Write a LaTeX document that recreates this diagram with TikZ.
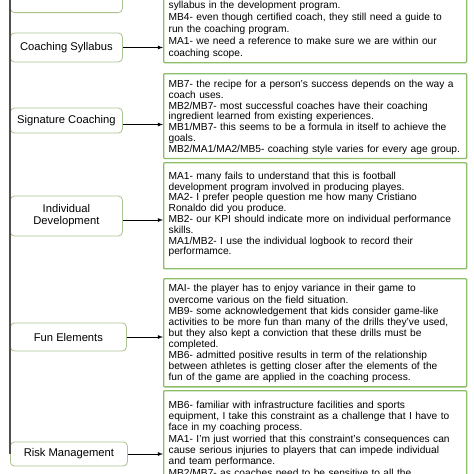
\documentclass[tikz,border=0pt]{standalone}
\usepackage{fontspec}
\setmainfont{Liberation Sans}
\definecolor{notegreen}{RGB}{140,190,105}
\definecolor{topicgreen}{RGB}{170,195,145}
\definecolor{spinegray}{RGB}{80,80,80}
\tikzset{
  topic/.style={draw=topicgreen, line width=0.8pt, rounded corners=4pt,
    align=center, anchor=west, inner sep=0pt,
    font=\fontsize{11.2}{12}\selectfont},
  note/.style={draw=notegreen, line width=1.3pt, rounded corners=1pt,
    text width=293pt, align=left, inner xsep=5pt, inner ysep=4pt,
    anchor=north west, font=\fontsize{10.2}{10.8}\selectfont},
  arr/.style={-latex, line width=0.8pt},
}
\begin{document}
\begin{tikzpicture}[x=1pt, y=-1pt]
      \useasboundingbox (0,0) rectangle (474,474);
      \clip (0,0) rectangle (474,474);
      % topics on the left
      \node[topic, minimum width=112pt, minimum height=40pt, anchor=south west] (prev) at (10,13) {};
      \node[topic, minimum width=112pt, minimum height=29pt] (syl) at (10,47.5) {Coaching Syllabus};
      \node[topic, minimum width=112pt, minimum height=25pt] (sig) at (10,120.5) {Signature Coaching};
      \node[topic, minimum width=112pt, minimum height=40pt] (ind) at (10,216) {Individual\\Development};
      \node[topic, minimum width=116pt, minimum height=28pt] (fun) at (10,337) {Fun Elements};
      \node[topic, minimum width=117pt, minimum height=24pt] (risk) at (10,454) {Risk Management};
      % notes on the right
      \node[note, anchor=south west, font=\fontsize{10.2}{12}\selectfont] (sylnote) at (163,63.3) {%
        \rule{0pt}{30pt}syllabus in the development program.\\
        MB4- even though certified coach, they still need a guide to\\
        run the coaching program.\\
        MA1- we need a reference to make sure we are within our\\
        coaching scope.};
      \node[note] (signote) at (163,73) {%
        \rule{0pt}{9.9pt}MB7- the recipe for a person's success depends on the way a\\
        coach uses.\\
        MB2/MB7- most successful coaches have their coaching\\
        ingredient learned from existing experiences.\\
        MB1/MB7- this seems to be a formula in itself to achieve the\\
        goals.\\
        MB2/MA1/MA2/MB5- coaching style varies for every age group.};
      \node[note] (indnote) at (163,162) {%
        \rule{0pt}{12.6pt}MA1- many fails to understand that this is football\\
        development program involved in producing playes.\\
        MA2- I prefer people question me how many Cristiano\\
        Ronaldo did you produce.\\
        MB2- our KPI should indicate more on individual performance\\
        skills.\\
        MA1/MB2- I use the individual logbook to record their\\
        performamce.\rule[-9.9pt]{0pt}{0pt}};
      \node[note, font=\fontsize{10.2}{11.1}\selectfont] (funnote) at (163,278) {%
        \rule{0pt}{9.3pt}MAI- the player has to enjoy variance in their game to\\
        overcome various on the field situation.\\
        MB9- some acknowledgement that kids consider game-like\\
        activities to be more fun than many of the drills they've used,\\
        but they also kept a conviction that these drills must be\\
        completed.\\
        MB6- admitted positive results in term of the relationship\\
        between athletes is getting closer after the elements of the\\
        fun of the game are applied in the coaching process.};
      \node[note, font=\fontsize{10.2}{11.3}\selectfont] (risknote) at (163,390) {%
        \rule{0pt}{13.6pt}MB6- familiar with infrastructure facilities and sports\\
        equipment, I take this constraint as a challenge that I have to\\
        face in my coaching process.\\
        MA1- I'm just worried that this constraint's consequences can\\
        cause serious injuries to players that can impede individual\\
        and team performance.\\
        MB2/MB7- as coaches need to be sensitive to all the\rule[-20pt]{0pt}{0pt}};
      % spine and arrows
      \coordinate (spine) at (10,-5);
      \draw[spinegray, line width=1.5pt] (spine) -- (risk.west);
      \draw[arr] (syl.east) -- (syl.east -| sylnote.west);
      \draw[arr] ([yshift=-4pt]sig.east) -- ([yshift=-4pt]sig.east -| signote.west);
      \draw[arr] ([yshift=-4pt]ind.east) -- ([yshift=-4pt]ind.east -| indnote.west);
      \draw[arr] (fun.east) -- (fun.east -| funnote.west);
      \draw[arr] (risk.east) -- (risk.east -| risknote.west);
    \end{tikzpicture}
\end{document}
